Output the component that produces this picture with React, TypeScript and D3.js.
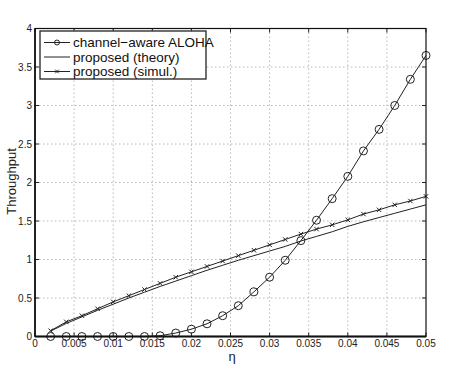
import React from "react";
import * as d3 from "d3";

const etaValues = [0.002, 0.004, 0.006, 0.008, 0.01, 0.012, 0.014, 0.016, 0.018, 0.02, 0.022, 0.024, 0.026, 0.028, 0.03, 0.032, 0.034, 0.036, 0.038, 0.04, 0.042, 0.044, 0.046, 0.048, 0.05];
const alohaValues = [0, 0, 0, 0, 0, 0, 0, 0.01, 0.045, 0.095, 0.165, 0.27, 0.4, 0.58, 0.77, 0.99, 1.245, 1.51, 1.79, 2.08, 2.41, 2.69, 3.0, 3.34, 3.65];
const theoryValues = [0.07, 0.17, 0.255, 0.34, 0.42, 0.5, 0.575, 0.65, 0.72, 0.79, 0.86, 0.925, 0.99, 1.05, 1.11, 1.17, 1.24, 1.3, 1.36, 1.43, 1.49, 1.545, 1.6, 1.655, 1.71];
const simulValues = [0.075, 0.19, 0.27, 0.36, 0.45, 0.53, 0.61, 0.69, 0.77, 0.84, 0.91, 0.98, 1.05, 1.12, 1.19, 1.26, 1.33, 1.395, 1.45, 1.515, 1.59, 1.645, 1.71, 1.76, 1.82];
const xTicks = [0, 0.005, 0.01, 0.015, 0.02, 0.025, 0.03, 0.035, 0.04, 0.045, 0.05];
const yTicks = [0, 0.5, 1, 1.5, 2, 2.5, 3, 3.5, 4];
const legendLabels = ["channel\u2212aware ALOHA", "proposed (theory)", "proposed (simul.)"];
const xLabel = "\u03b7";
const yLabel = "Throughput";

const W = 474, H = 365;
const L = 35, R = 426, T = 28.5, B = 336.5;
const FONT = "Liberation Sans, Arial, Helvetica, sans-serif";
const INK = "#222";

export default function App() {
  const x = d3.scaleLinear().domain([0, 0.05]).range([L, R]);
  const y = d3.scaleLinear().domain([0, 4]).range([B, T]);
  const line = d3.line<[number, number]>().x(d => x(d[0])).y(d => y(d[1]));
  const aloha = etaValues.map((e, i) => [e, alohaValues[i]] as [number, number]);
  const theory = etaValues.map((e, i) => [e, theoryValues[i]] as [number, number]);
  const simul = etaValues.map((e, i) => [e, simulValues[i]] as [number, number]);
  const tk = 4;
  const cross = (cx: number, cy: number, s: number, key: string) => (
    <path key={key} d={`M${cx - s},${cy - s}L${cx + s},${cy + s}M${cx - s},${cy + s}L${cx + s},${cy - s}`} stroke={INK} strokeWidth={1} fill="none" />
  );
  return (
    <svg width={W} height={H} style={{ position: "absolute", left: 0, top: 0, background: "#fff" }} fontFamily={FONT}>
      <rect x={0} y={0} width={W} height={H} fill="#fff" />
      {/* grid */}
      <g stroke="#b0b0b0" strokeWidth={0.9} strokeDasharray="1.5,2.5">
        {xTicks.slice(1, -1).map(t => <line key={"gx" + t} x1={x(t)} x2={x(t)} y1={T} y2={B} />)}
        {yTicks.slice(1, -1).map(t => <line key={"gy" + t} x1={L} x2={R} y1={y(t)} y2={y(t)} />)}
      </g>
      {/* ticks */}
      <g stroke={INK} strokeWidth={1}>
        {xTicks.map(t => <line key={"tb" + t} x1={x(t)} x2={x(t)} y1={B} y2={B - tk} />)}
        {xTicks.map(t => <line key={"tt" + t} x1={x(t)} x2={x(t)} y1={T} y2={T + tk} />)}
        {yTicks.map(t => <line key={"tl" + t} x1={L} x2={L + tk} y1={y(t)} y2={y(t)} />)}
        {yTicks.map(t => <line key={"tr" + t} x1={R} x2={R - tk} y1={y(t)} y2={y(t)} />)}
      </g>
      {/* data */}
      <path d={line(theory) || ""} fill="none" stroke={INK} strokeWidth={1} />
      <path d={line(simul) || ""} fill="none" stroke={INK} strokeWidth={1} />
      {simul.map((d, i) => cross(x(d[0]), y(d[1]), 2.2, "s" + i))}
      <path d={line(aloha) || ""} fill="none" stroke={INK} strokeWidth={1} />
      {aloha.map((d, i) => <circle key={"a" + i} cx={x(d[0])} cy={y(d[1])} r={4} fill="none" stroke={INK} strokeWidth={1} />)}
      {/* axes box */}
      <rect x={L} y={T} width={R - L} height={B - T} fill="none" stroke="#111" strokeWidth={1.2} />
      <line x1={L} x2={R} y1={B} y2={B} stroke="#111" strokeWidth={1.8} />
      <line x1={L} x2={L} y1={T} y2={B} stroke="#111" strokeWidth={1.6} />
      {/* tick labels */}
      <g fontSize={10} fill="#222">
        {xTicks.map(t => <text key={"xl" + t} x={x(t)} y={347} textAnchor="middle">{String(t)}</text>)}
        {yTicks.map(t => <text key={"yl" + t} x={32} y={y(t) + 3.5} textAnchor="end">{String(t)}</text>)}
      </g>
      <text x={232} y={361} fontSize={13} textAnchor="middle" fill="#222">{xLabel}</text>
      <text transform={`translate(16,${(T + B) / 2 - 1}) rotate(-90)`} fontSize={13} textAnchor="middle" fill="#222">{yLabel}</text>
      {/* legend */}
      <g>
        <rect x={40} y={31} width={166} height={48} fill="#fff" stroke="#222" strokeWidth={1.3} />
        {legendLabels.map((lab, i) => {
          const ly = 42.5 + i * 14.5;
          return (
            <g key={lab}>
              <line x1={44} x2={70} y1={ly} y2={ly} stroke={INK} strokeWidth={1} />
              {i === 0 && <circle cx={57} cy={ly} r={2.5} fill="none" stroke={INK} strokeWidth={1} />}
              {i === 2 && cross(57, ly, 1.8, "lc")}
              <text x={73} y={ly + 4.5} fontSize={13.5} fill="#111">{lab}</text>
            </g>
          );
        })}
      </g>
    </svg>
  );
}
